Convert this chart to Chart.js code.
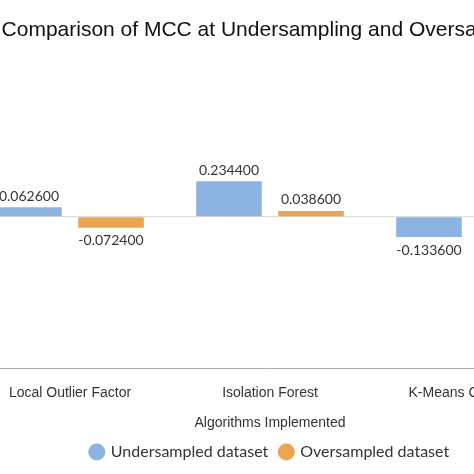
<!DOCTYPE html>
<html><head><meta charset="utf-8">
<script src="https://cdn.jsdelivr.net/npm/chart.js@4/dist/chart.umd.min.js"></script>
<style>
html,body{margin:0;padding:0;background:#fff;overflow:hidden;width:474px;height:474px;}
#wrap{position:absolute;left:-30px;top:0;width:600px;height:474px;}
</style></head><body>
<div id="wrap"><canvas id="c" width="600" height="474"></canvas></div>
<script>
const categories = ["Local Outlier Factor", "Isolation Forest", "K-Means Clustering"];
const undersampled = [0.0626, 0.2344, -0.1336];
const oversampled = [-0.0724, 0.0386, 0.0512];
const seriesNames = ["Undersampled dataset", "Oversampled dataset"];

const labelPlugin = {
  id: 'vals',
  afterDatasetsDraw(chart) {
    const ctx = chart.ctx;
    ctx.save();
    ctx.font = '14px Lato';
    ctx.fillStyle = '#333';
    ctx.textAlign = 'center';
    chart.data.datasets.forEach((ds, i) => {
      chart.getDatasetMeta(i).data.forEach((bar, j) => {
        const v = ds.data[j];
        const txt = v.toFixed(6);
        if (v >= 0) { ctx.textBaseline = 'bottom'; ctx.fillText(txt, bar.x, bar.y - 4); }
        else { ctx.textBaseline = 'top'; ctx.fillText(txt, bar.x, bar.y + 6); }
      });
    });
    ctx.restore();
  }
};

new Chart(document.getElementById('c'), {
  type: 'bar',
  data: {
    labels: categories,
    datasets: [
      { label: seriesNames[0], data: undersampled, backgroundColor: '#8db3e2' },
      { label: seriesNames[1], data: oversampled, backgroundColor: '#eba452' }
    ]
  },
  options: {
    responsive: false,
    animation: false,
    layout: { padding: { top: 0, bottom: 4, left: 0, right: 0 } },
    categoryPercentage: 0.82,
    barPercentage: 0.8,
    plugins: {
      title: { display: true, text: 'Comparison of MCC at Undersampling and Oversampling',
        font: { family: 'Liberation Sans', size: 21, weight: 'normal' }, color: '#111', padding: { top: 18, bottom: 22 } },
      legend: { position: 'bottom', labels: { usePointStyle: true, pointStyle: 'circle', boxWidth: 12, boxHeight: 12,
        font: { family: 'Lato', size: 16 }, color: '#333', padding: 12 } },
      tooltip: { enabled: false }
    },
    scales: {
      x: {
        grid: { display: false },
        border: { display: true, color: '#aaa', width: 1 },
        ticks: { font: { family: 'Liberation Sans', size: 14 }, color: '#333', padding: 8 },
        title: { display: true, text: 'Algorithms Implemented', font: { family: 'Liberation Sans', size: 14 }, color: '#333', padding: { top: 6, bottom: 0 } }
      },
      y: {
        min: -1, max: 1,
        ticks: { display: false, stepSize: 0.5 },
        border: { display: false },
        grid: { color: c => c.tick.value === 0 ? '#dcdcdc' : 'rgba(0,0,0,0)', drawTicks: false }
      }
    }
  },
  plugins: [labelPlugin]
});
</script></body></html>
